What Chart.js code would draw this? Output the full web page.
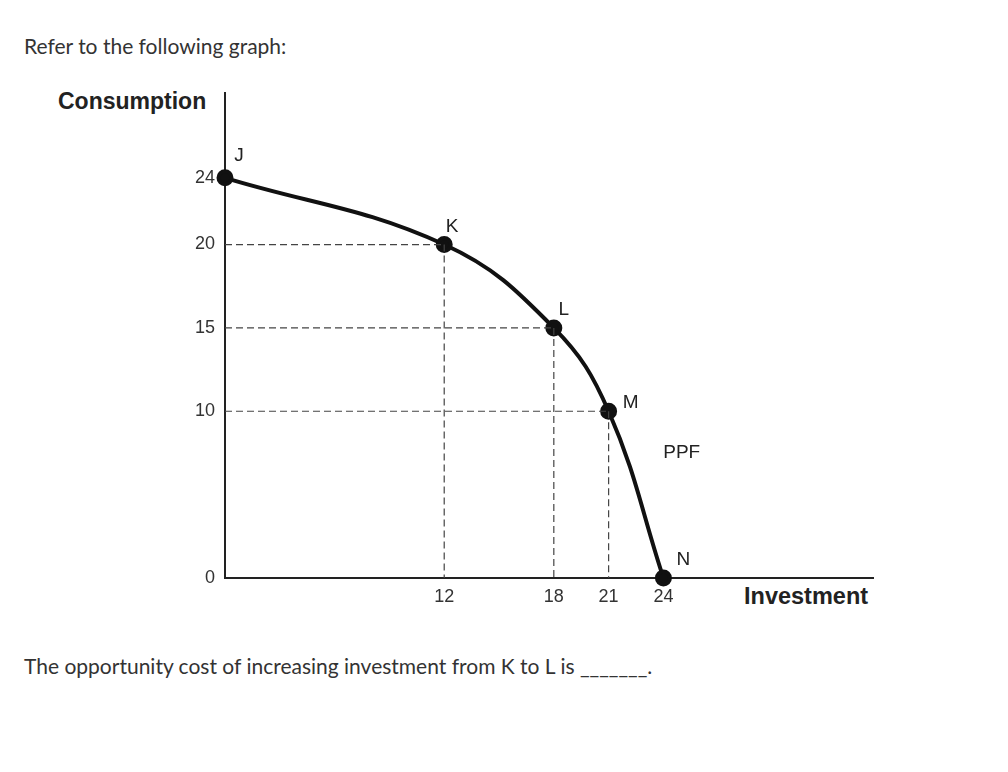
<!DOCTYPE html>
<html><head><meta charset="utf-8">
<script src="https://cdn.jsdelivr.net/npm/chart.js"></script>
<style>
body{margin:0;width:1008px;height:772px;background:#fff;position:relative;overflow:hidden;font-family:Lato,sans-serif;}
.t{position:absolute;white-space:nowrap;}
</style></head><body>
<div class="t" style="left:24px;top:33px;font-size:21px;color:#333;">Refer to the following graph:</div>
<div class="t" style="left:58px;top:88px;font-size:23px;font-weight:bold;font-family:'Liberation Sans',Arial;color:#222;">Consumption</div>
<div class="t" style="left:744px;top:583px;font-size:23.5px;font-weight:bold;font-family:'Liberation Sans',Arial;color:#222;">Investment</div>
<div class="t" style="left:24px;top:653px;font-size:21px;color:#333;">The opportunity cost of increasing investment from K to L is _______.</div>
<div style="position:absolute;left:180px;top:72px;width:704px;height:546px;"><canvas id="c"></canvas></div>
<script>
const pointNames=['J','K','L','M','N'];
const investment=[0,12,18,21,24];
const consumption=[24,20,15,10,0];
const xTicks=[12,18,21,24];
const yTicks=[0,10,15,20,24];
const labelOffsets=[[14,-22],[8,-18],[10,-18],[22,-8],[20,-18]];

const curve=investment.map((x,i)=>({x,y:consumption[i]}));
const guides=[];
[1,2,3].forEach(i=>{
  guides.push({type:'line',data:[{x:0,y:consumption[i]},{x:investment[i],y:consumption[i]}],borderColor:'#444',borderWidth:1.2,borderDash:[7,4],pointRadius:0,fill:false});
  guides.push({type:'line',data:[{x:investment[i],y:consumption[i]},{x:investment[i],y:0}],borderColor:'#444',borderWidth:1.2,borderDash:[7,4],pointRadius:0,fill:false});
});
const labelPlugin={id:'lbl',afterDatasetsDraw(ch){
  const c=ch.ctx,xs=ch.scales.x,ys=ch.scales.y;
  c.save();c.fillStyle='#222';c.font='19px "Liberation Sans", Arial';c.textAlign='center';c.textBaseline='middle';
  pointNames.forEach((n,i)=>{c.fillText(n,xs.getPixelForValue(investment[i])+labelOffsets[i][0],ys.getPixelForValue(consumption[i])+labelOffsets[i][1]);});
  c.fillText('PPF',xs.getPixelForValue(25),ys.getPixelForValue(7.5));
  c.restore();
}};
new Chart(document.getElementById('c'),{
  type:'scatter',
  data:{datasets:[...guides,{type:'line',data:curve,borderColor:'#111',borderWidth:4,tension:0.4,pointRadius:6.5,pointBackgroundColor:'#111',pointBorderColor:'#111',fill:false}]},
  options:{responsive:true,maintainAspectRatio:false,animation:false,clip:false,
    layout:{padding:0},
    plugins:{legend:{display:false},tooltip:{enabled:false}},
    scales:{
      x:{type:'linear',min:0,max:35.5,afterFit:s=>{s.height=40;},
        afterBuildTicks:s=>{s.ticks=xTicks.map(v=>({value:v}));},
        grid:{display:false,drawTicks:false},border:{color:'#222',width:2},
        ticks:{color:'#333',font:{size:18,family:'"Liberation Sans", Arial'},padding:8,autoSkip:false,maxRotation:0}},
      y:{type:'linear',min:0,max:29.1,afterFit:s=>{s.width=45;},
        afterBuildTicks:s=>{s.ticks=yTicks.map(v=>({value:v}));},
        grid:{display:false,drawTicks:false},border:{color:'#222',width:2},
        ticks:{color:'#333',font:{size:18,family:'"Liberation Sans", Arial'},padding:10,autoSkip:false}}
    }},
  plugins:[labelPlugin]
});
</script></body></html>
